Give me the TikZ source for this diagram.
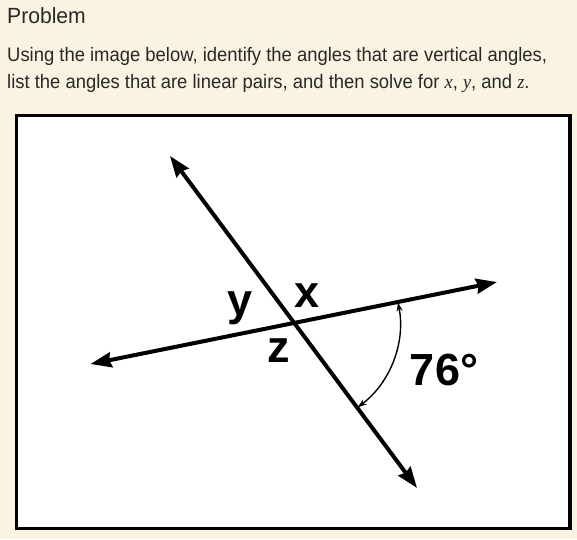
\documentclass[tikz,border=0pt]{standalone}
\usepackage{fontspec}
\setmainfont{Liberation Sans}
\newfontfamily\labfont{Liberation Sans}
\newfontfamily\varfont{Liberation Serif}
\usetikzlibrary{arrows.meta,calc}
\definecolor{bg}{RGB}{250,243,226}
\definecolor{txt}{RGB}{40,40,40}
\tikzset{
  para/.style={anchor=base west, inner sep=0pt, text=txt, font=\fontsize{19.5}{20}\selectfont},
  bigline/.style={line width=4pt, {Stealth[length=21pt,width=15pt,inset=2pt]}-{Stealth[length=21pt,width=15pt,inset=2pt]}},
  anglearc/.style={line width=1.4pt, {Stealth[length=9pt,width=6pt]}-{Stealth[length=9pt,width=6pt]}},
  lab/.style={font=\labfont\bfseries\fontsize{45}{45}\selectfont, inner sep=0pt, anchor=base}
}
\begin{document}
\begin{tikzpicture}[x=1pt,y=-1pt]
\fill[bg] (0,0) rectangle (577,539);
\useasboundingbox (0,0) rectangle (577,539);
\node[para, font=\fontsize{22}{22}\selectfont] (title) at (7,23.3) {\scalebox{0.96}[1]{Problem}};
\node[para] (l1) at (7,61) {\scalebox{0.945}[1]{Using the image below, identify the angles that are vertical angles,}};
\node[para] (l2) at (7,88) {\scalebox{0.945}[1]{list the angles that are linear pairs, and then solve for {\varfont\itshape x}, {\varfont\itshape y}, and {\varfont\itshape z}.}};
\draw[line width=3.5pt, fill=white] (16.7,115.7) rectangle (569.8,528.7);
\coordinate (A1) at (170,156);
\coordinate (A2) at (417,488);
\coordinate (B1) at (90.5,364);
\coordinate (B2) at (497,282);
\coordinate (O) at (295,323);
\draw[bigline] (A1) -- (A2);
\draw[bigline] (B1) -- (B2);
\draw[anglearc] ($(O)+(53.4:105)$) arc[start angle=53.4, end angle=-11.3, radius=105];
\node[lab] (y) at (240,315) {y};
\node[lab] (x) at (307,307) {x};
\node[lab] (z) at (279,362) {z};
\node[lab] (ang) at (444,385) {76°};
\end{tikzpicture}
\end{document}
